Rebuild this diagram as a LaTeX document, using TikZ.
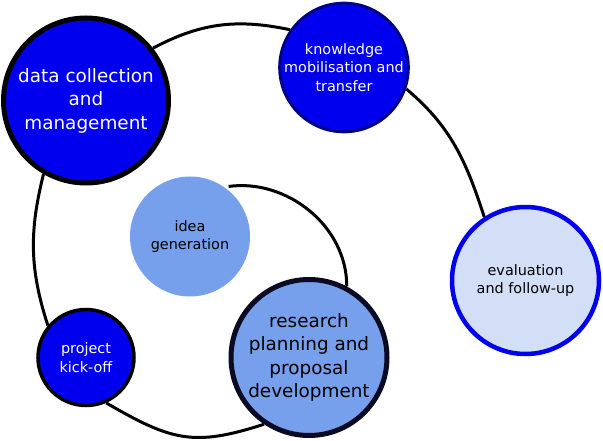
\documentclass[tikz,border=0pt]{standalone}
\usepackage{fontspec}
\setmainfont{DejaVu Sans}
\usetikzlibrary{backgrounds}

\definecolor{deepblue}{RGB}{0,0,238}
\definecolor{midblue}{RGB}{118,159,236}
\definecolor{paleblue}{RGB}{210,223,247}
\definecolor{navyline}{RGB}{0,0,135}
\definecolor{darkline}{RGB}{10,10,35}

\begin{document}
\begin{tikzpicture}[x=1pt,y=1pt,thick]
    \tikzstyle{n}=[circle, inner sep=0pt, align=center]
    \tikzstyle{big}=[n, font=\fontsize{18.4}{23.5}\selectfont]
    \tikzstyle{small}=[n, font=\fontsize{14.4}{18.3}\selectfont]
    \tikzstyle{spiral}=[line width=3pt]

    \useasboundingbox (0,0) rectangle (603,440);

    \node[big, fill=deepblue, draw=black, line width=5pt, text=white, minimum size=165pt] (collect) at (86,339.5) {data collection\\and\\management};
    \node[small, fill=deepblue, draw=navyline, line width=3pt, text=white, minimum size=126pt] (know) at (344,372.5) {knowledge\\mobilisation and\\transfer};
    \node[small, fill=paleblue, draw=deepblue, line width=4.5pt, text=black, minimum size=147pt] (eval) at (525.5,159.5) {evaluation\\and follow-up};
    \node[small, fill=midblue, text=black, minimum size=120pt] (idea) at (190,203.5) {idea\\generation};
    \node[small, fill=deepblue, draw=black, line width=3.5pt, text=white, minimum size=96pt] (kick) at (86,82.5) {project\\kick-off};
    \node[big, fill=midblue, draw=darkline, line width=5pt, text=black, minimum size=156pt] (plan) at (309,82.5) {research\\planning and\\proposal\\development};

    \begin{scope}[on background layer]
    \draw[spiral, shorten <=4pt] (idea.55) to[out=8,in=90] (plan.62);
    \draw[spiral] (plan.236) to[out=198,in=330,looseness=1.2] (kick.294);
    \draw[spiral] (kick.140) to[out=108,in=256] (collect.240);
    \draw[spiral] (collect.38) to[out=28,in=168] (know.145);
    \draw[spiral] (know.341) to[out=320,in=108] (eval.123);
    \end{scope}
\end{tikzpicture}
\end{document}
